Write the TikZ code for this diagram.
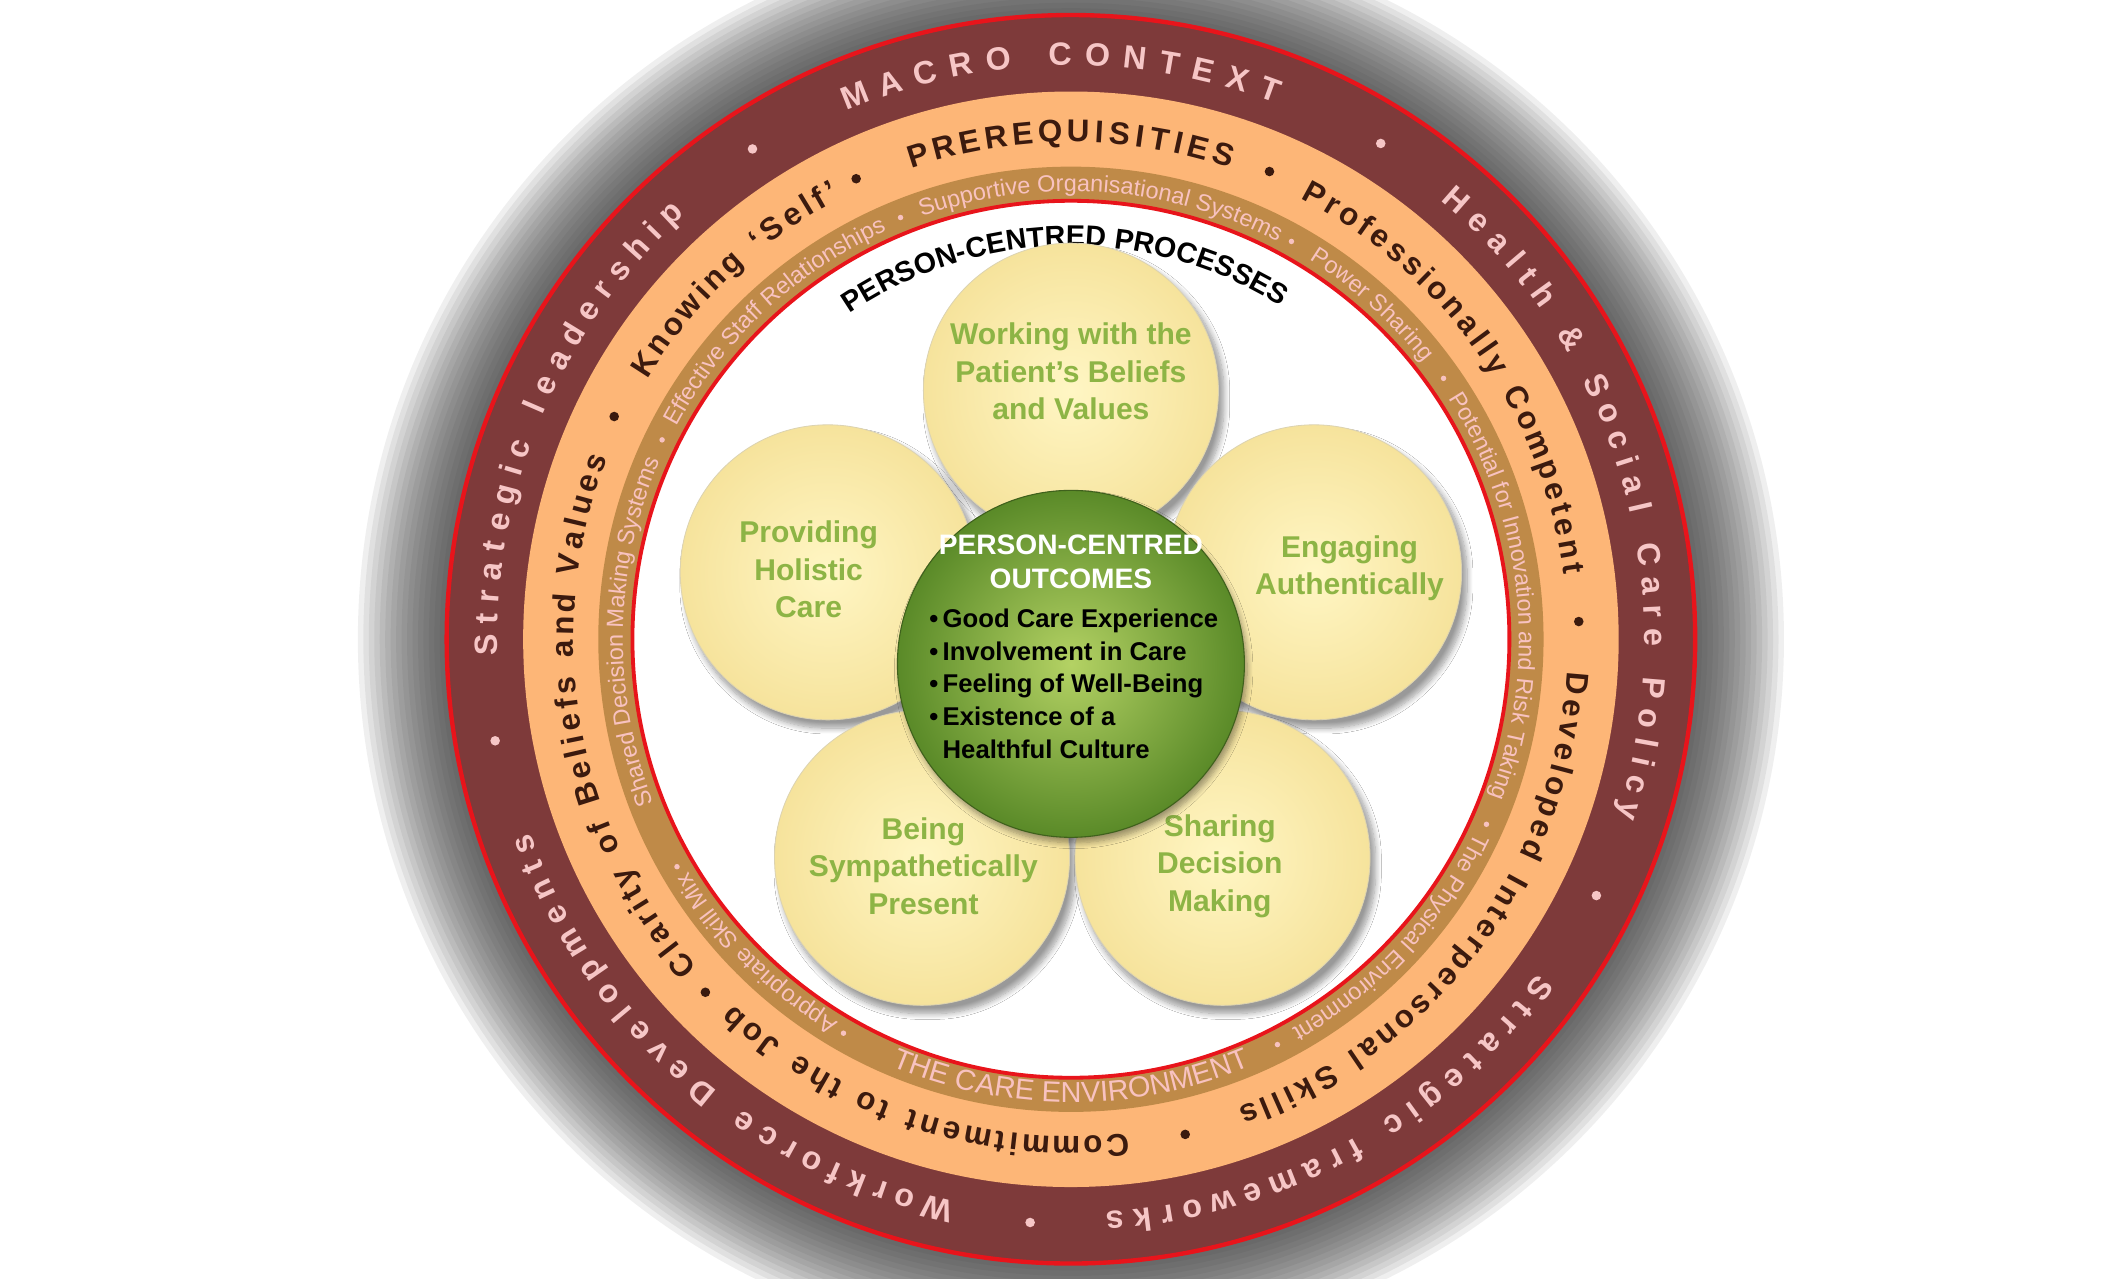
\documentclass[tikz,border=0pt]{standalone}
\usepackage{fontspec}
\setmainfont{Liberation Sans}
\usetikzlibrary{decorations.text,shadows.blur}
\newfontfamily\bfontfam{Liberation Sans Bold}
\newcommand\mfont{\bfontfam\fontsize{11.8}{12}\selectfont}
\newcommand\pfont{\bfontfam\fontsize{11.5}{12}\selectfont}
\newcommand\tfont{\rmfamily\fontsize{8.6}{9}\selectfont}
\newcommand\cfont{\rmfamily\fontsize{10.6}{11}\selectfont}
\newcommand\hfont{\bfontfam\fontsize{10.5}{12}\selectfont}
\definecolor{maroon}{HTML}{7E3A3A}
\definecolor{peach}{HTML}{FDB677}
\definecolor{tan}{HTML}{BF8A48}
\definecolor{redline}{HTML}{E8141B}
\definecolor{mtext}{HTML}{F6C6C6}
\definecolor{ptext}{HTML}{3B1A0E}
\definecolor{ttext}{HTML}{F8C2C0}
\definecolor{petalin}{HTML}{FFF6C4}
\definecolor{petalout}{HTML}{F6E39C}
\definecolor{petaltext}{HTML}{8DB445}
\definecolor{gin}{HTML}{B4D264}
\definecolor{gout}{HTML}{5A8A28}
% radius, centre angle, half span, format, color, text  (clockwise)
\newcommand\ringcw[6]{%
  \path[decorate,decoration={text along path,text color=#5,text align=center,
    text={|#4|#6}}]
    ({#2+#3}:#1) arc[start angle={#2+#3},end angle={#2-#3},radius=#1];}
% spaced: radius, centre, half span, font, color, xsep, text
\newcommand\ringsp[7]{%
  \path[decorate,decoration={text effects along path,text={#7},text align=center,
    text effects/.cd,text along path,
    characters={text=#5,font=#4,inner sep=0pt,anchor=base},
    character widths={inner xsep=#6}}]
    ({#2+#3}:#1) arc[start angle={#2+#3},end angle={#2-#3},radius=#1];}
\tikzset{
  petal/.style={circle,minimum size=108pt,inner sep=0pt,shade,inner color=petalin,
    outer color=petalout,draw=petalout!80!black!60,line width=0.3pt,
    blur shadow={shadow blur steps=10,shadow xshift=2pt,shadow yshift=-3pt,shadow blur extra rounding=3pt}},
  ptxt/.style={align=center,text=petaltext,font=\bfontfam\fontsize{11}{13.7}\selectfont},
  dotm/.style={fill=mtext},
  dotp/.style={fill=ptext},
  dott/.style={fill=ttext}
}
\begin{document}
\begin{tikzpicture}[x=0.5pt,y=0.5pt]
\useasboundingbox[fill=white] (-784,-468) rectangle (768,468);
% halo
\foreach \r in {522,518,...,458}{\fill[black!80,opacity=0.075] (0,0) circle (\r);}
% rings
\fill[maroon] (0,0) circle (457);
\fill[peach] (0,0) circle (401);
\fill[tan] (0,0) circle (346);
\draw[redline,line width=1.6pt] (0,0) circle (457);
\fill[white] (0,0) circle (321);
\draw[redline,line width=1.4pt] (0,0) circle (321);
% maroon ring
\ringsp{420}{91}{40}{\mfont}{mtext}{3pt}{MACRO CONTEXT}
\ringsp{420}{16}{45}{\mfont}{mtext}{2.4pt}{Health {\&} Social Care Policy}
\ringsp{420}{-61}{40}{\mfont}{mtext}{2.4pt}{Strategic frameworks}
\ringsp{420}{-131}{40}{\mfont}{mtext}{2.4pt}{Workforce Developments}
\ringsp{420}{157}{40}{\mfont}{mtext}{2.4pt}{Strategic leadership}
\foreach \a in {123,58,-26,-94,190}{\fill[dotm] (\a:428) circle (3.5);}
% peach ring
\ringsp{364}{90}{35}{\pfont}{ptext}{1.3pt}{PREREQUISITIES}
\ringsp{364}{35}{40}{\pfont}{ptext}{1.3pt}{Professionally Competent}
\ringsp{364}{-37}{45}{\pfont}{ptext}{1.3pt}{Developed Interpersonal Skills}
\ringsp{364}{-108}{40}{\pfont}{ptext}{1.3pt}{Commitment to the Job}
\ringsp{364}{-170}{45}{\pfont}{ptext}{1.3pt}{Clarity of Beliefs and Values}
\ringsp{364}{133}{30}{\pfont}{ptext}{1.3pt}{Knowing ‘Self’}
\foreach \a in {115,67,2,-77,-136,154}{\fill[dotp] (\a:372) circle (3.5);}
% tan ring
\ringcw{328}{86}{35}{\tfont}{ttext}{Supportive Organisational Systems}
\ringcw{328}{48}{20}{\tfont}{ttext}{Power Sharing}
\ringcw{328}{6}{40}{\tfont}{ttext}{Potential for Innovation and Risk Taking}
\ringcw{328}{-43}{30}{\tfont}{ttext}{The Physical Environment}
\ringcw{328}{-135}{25}{\tfont}{ttext}{Appropriate Skill Mix}
\ringcw{328}{179}{35}{\tfont}{ttext}{Shared Decision Making Systems}
\ringcw{328}{133}{30}{\tfont}{ttext}{Effective Staff Relationships}
\foreach \a in {61,35,-24,-63,-120,-150,154,112}{\fill[dott] (\a:333) circle (2);}
\path[decorate,decoration={text along path,text color=ttext,text align=center,
    text={|\cfont|THE CARE ENVIRONMENT}}]
    (-150:339) arc[start angle=-150,end angle=-30,radius=339];
% inner heading
\ringcw{288}{91}{45}{\hfont}{black}{PERSON-CENTRED PROCESSES}
% petals
\node[petal] (p1) at (0,182) {};
\node[petal] (p2) at (-178,49) {};
\node[petal] (p3) at (178,49) {};
\node[petal] (p4) at (-109,-160) {};
\node[petal] (p5) at (111,-160) {};
\node[ptxt] (t1) at (0,196) {Working with the\\Patient’s Beliefs\\and Values};
\node[ptxt] (t2) at (-192,51) {Providing\\Holistic\\Care};
\node[ptxt] (t3) at (204,52) {Engaging\\Authentically};
\node[ptxt] (t4) at (-108,-166) {Being\\Sympathetically\\Present};
\node[ptxt] (t5) at (109,-166) {Sharing\\Decision\\Making};
% centre
\node[circle,minimum size=127pt,inner sep=0pt,shade,inner color=gin,outer color=gout,
  draw=gout!70!black,line width=0.4pt,
  blur shadow={shadow blur steps=8,shadow xshift=1pt,shadow yshift=-2pt}] (c) at (0,-18) {};
\node[align=center,text=white,font=\bfontfam\fontsize{10.3}{12.5}\selectfont] (ch) at (0,57) {PERSON-CENTRED\\OUTCOMES};
\node[anchor=north west,inner sep=0pt,font=\bfontfam\fontsize{9.4}{12}\selectfont] (cl) at (-104,26)
  {\begin{tabular}{@{}l@{\,}l@{}}•&Good Care Experience\\ •&Involvement in Care\\ •&Feeling of Well-Being\\ •&Existence of a\\ &Healthful Culture\end{tabular}};
\end{tikzpicture}
\end{document}
